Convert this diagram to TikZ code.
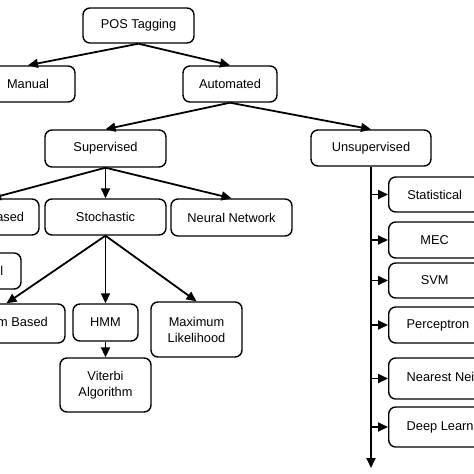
\documentclass[tikz,border=0pt]{standalone}
\usepackage{fontspec}
\setmainfont{Liberation Sans}
\usetikzlibrary{arrows.meta}
\newcommand{\fsz}{\fontsize{12.8pt}{16pt}\selectfont}
\tikzset{
  box/.style={draw, rounded corners=7pt, line width=1.4pt, inner sep=0pt, align=center, font=\fsz},
  rbox/.style={box, anchor=west, inner xsep=18pt, minimum width=92pt},
  arr/.style={line width=1.8pt, -{Triangle[length=10pt,width=9pt]}},
  ln/.style={line width=1.8pt}
}
\begin{document}
\begin{tikzpicture}[x=1pt,y=-1pt]
\useasboundingbox (0,0) rectangle (474,474);
\fill[white] (0,0) rectangle (474,474);
\node[box, minimum width=111pt, minimum height=35pt] (pos) at (138.5,25.5) {POS Tagging};
\node[box, minimum width=94pt, minimum height=36pt] (manual) at (28,84) {Manual};
\node[box, minimum width=94pt, minimum height=36pt] (auto) at (230,84) {Automated};
\node[box, minimum width=121pt, minimum height=37pt] (sup) at (105.5,148.5) {Supervised};
\node[box, minimum width=120pt, minimum height=36pt] (unsup) at (371,148) {Unsupervised};
\node[box, minimum width=96pt, minimum height=36pt] (rule) at (-9,217) {Rule Based};
\node[box, minimum width=121pt, minimum height=36pt] (stoch) at (105.5,217) {Stochastic};
\node[box, minimum width=121pt, minimum height=37pt] (nn) at (231.5,217.5) {Neural Network};
\node[box, minimum width=57pt, minimum height=36pt] (brill) at (-7.5,271) {Brill};
\node[box, minimum width=117pt, minimum height=39pt] (ngram) at (6.5,323.5) {N-gram Based};
\node[box, minimum width=65pt, minimum height=37pt] (hmm) at (105.5,322.5) {HMM};
\node[box, minimum width=91pt, minimum height=55pt] (maxl) at (196.5,329.5) {Maximum\\Likelihood};
\node[box, minimum width=91pt, minimum height=54pt] (vit) at (105.5,385) {Viterbi\\Algorithm};
\node[rbox, minimum height=35pt] (stat) at (388,194.5) {Statistical};
\node[rbox, minimum height=36pt] (mec) at (388,240) {MEC};
\node[rbox, minimum height=35pt] (svm) at (388,280.5) {SVM};
\node[rbox, minimum height=36pt] (perc) at (388,325) {Perceptron};
\node[rbox, minimum height=41pt] (near) at (388,378.5) {Nearest Neighbor};
\node[rbox, minimum height=40pt] (deep) at (388,427) {Deep Learning};
\coordinate (bot) at (371,468);
\draw[arr] (pos.south) -- (manual.north);
\draw[arr] (pos.south) -- (auto.north);
\draw[arr] (auto.south) -- (sup.north);
\draw[arr] (auto.south) -- (unsup.north);
\draw[arr] (sup.south) -- (rule.north);
\draw[arr] (sup.south) -- (stoch.north);
\draw[arr] (sup.south) -- (nn.north);
\draw[arr] (stoch.south) -- (ngram.north);
\draw[arr] (stoch.south) -- (hmm.north);
\draw[arr] (stoch.south) -- (maxl.north);
\draw[arr] (hmm.south) -- (vit.north);
\draw[arr] (unsup.south) -- (bot);
\foreach \n in {stat,mec,svm,perc,near,deep}
  \draw[arr] (unsup.south |- \n.west) -- (\n.west);
\end{tikzpicture}
\end{document}
